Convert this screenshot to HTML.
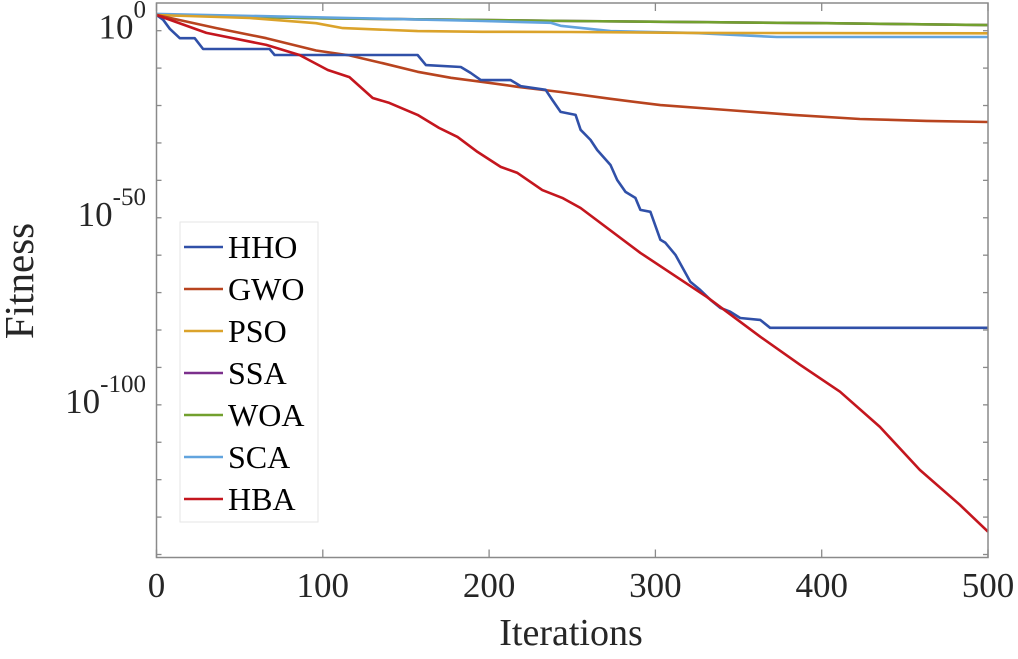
<!DOCTYPE html>
<html><head><meta charset="utf-8"><style>
html,body{margin:0;padding:0;background:#fff;}
svg{display:block;font-family:"Liberation Serif",serif;}
</style></head><body>
<svg id="chart" width="1018" height="659" viewBox="0 0 1018 659">
<rect x="0" y="0" width="1018" height="659" fill="#fff"/>
<g id="plot"></g>
<g id="axes"></g>
<text x="571" y="645" font-size="38" fill="#262626" text-anchor="middle">Iterations</text>
<text transform="translate(33,281) rotate(-90)" font-size="41" fill="#262626" text-anchor="middle">Fitness</text>
<g id="legend"></g>
</svg>
<script>
const seriesNames = ["HHO","GWO","PSO","SSA","WOA","SCA","HBA"];
const seriesColors = ["#3050a8","#b8441f","#dba32b","#7b2f8c","#72a02e","#62a4de","#c4161e"];
const xTicks = [0,100,200,300,400,500];
const yMajorTicks = [0,-50,-100];
const yMinorTicks = [0,-10,-20,-30,-40,-50,-60,-70,-80,-90,-100,-110,-120,-130,-140];
// [iteration, log10(fitness)]
const HHO = [[0,4.2],[4,2.9],[8,0.5],[14,-2],[23,-2],[28,-4.9],[68,-4.9],[71,-6.5],[157,-6.5],[162,-9.2],[183,-9.7],[189,-11.3],[195,-13.2],[213,-13.2],[219,-14.8],[234,-15.8],[238,-18.5],[243,-21.7],[252,-22.5],[255,-26.5],[261,-29.2],[265,-31.9],[273,-35.9],[277,-39.9],[282,-43.1],[288,-44.7],[291,-47.9],[297,-48.4],[303,-55.9],[306,-56.7],[312,-59.9],[321,-67.1],[327,-69.3],[333,-71.9],[339,-74.1],[345,-75.1],[351,-76.8],[363,-77.3],[369,-79.4],[500,-79.4]];
const GWO = [[0,4.2],[36,0.7],[66,-2.0],[96,-5.3],[116,-6.6],[136,-8.7],[157,-11.0],[177,-12.6],[196,-13.7],[217,-15.0],[243,-16.4],[273,-18.2],[303,-19.9],[343,-21.2],[383,-22.5],[423,-23.6],[463,-24.1],[500,-24.4]];
const PSO = [[0,4.2],[56,3.4],[96,2.0],[112,0.7],[157,-0.1],[196,-0.3],[249,-0.35],[323,-0.6],[500,-0.7]];
const SSA = [[0,4.2],[100,3.3],[249,2.6],[323,2.3],[403,2.0],[500,1.5]];
const WOA = [[0,4.2],[100,3.3],[249,2.6],[323,2.3],[403,2.0],[500,1.5]];
const SCA = [[0,4.5],[116,3.4],[196,2.6],[237,2.1],[243,1.3],[273,-0.1],[323,-0.6],[373,-1.7],[500,-1.7]];
const HBA = [[0,4.2],[30,-0.6],[66,-3.8],[86,-6.5],[103,-10.5],[116,-12.4],[130,-18],[140,-19.3],[157,-22.5],[170,-26],[181,-28.4],[193,-32.4],[207,-36.4],[217,-38],[232,-42.6],[244,-44.7],[255,-47.4],[291,-59.4],[331,-71.2],[363,-81.8],[387,-89.3],[411,-96.5],[435,-105.9],[459,-117.4],[483,-126.7],[500,-133.9]];
const allSeries = [HHO,GWO,PSO,SSA,WOA,SCA,HBA];

const X0=156.5, X1=988, Y0=3, Y1=557.5;
const xMin=0, xMax=500, yTop=7.4, yBot=-140.8;
function sx(v){return X0+(v-xMin)/(xMax-xMin)*(X1-X0);}
function sy(v){return Y0+(yTop-v)/(yTop-yBot)*(Y1-Y0);}
const NS="http://www.w3.org/2000/svg";
function mk(tag,attrs,parent){const e=document.createElementNS(NS,tag);for(const k in attrs)e.setAttribute(k,attrs[k]);parent.appendChild(e);return e;}

const plot=document.getElementById('plot');
const drawOrder=[3,4,5,2,1,0,6];
drawOrder.forEach(i=>{
  const pts=allSeries[i].map(p=>sx(p[0]).toFixed(1)+","+sy(p[1]).toFixed(1)).join(" ");
  const pl=mk('polyline',{points:pts,fill:"none",stroke:seriesColors[i],"stroke-width":2.6,"stroke-linejoin":"round"},plot);
  
  
});

const axes=document.getElementById('axes');
const box=mk('rect',{x:X0,y:Y0,width:X1-X0,height:Y1-Y0,fill:"none",stroke:"#8a8a8a","stroke-width":1.5},axes);


xTicks.forEach(t=>{
  const x=sx(t);
  mk('line',{x1:x,y1:Y1,x2:x,y2:Y1-8,stroke:"#8a8a8a","stroke-width":1.3},axes);
  mk('line',{x1:x,y1:Y0,x2:x,y2:Y0+8,stroke:"#8a8a8a","stroke-width":1.3},axes);
  const tx=mk('text',{x:x,y:597,"font-size":35,fill:"#262626","text-anchor":"middle"},axes);
  tx.textContent=t;
  
  
});
yMinorTicks.forEach(t=>{
  const y=sy(t);
  mk('line',{x1:X0,y1:y,x2:X0+5,y2:y,stroke:"#8a8a8a","stroke-width":1.3},axes);
  mk('line',{x1:X1,y1:y,x2:X1-5,y2:y,stroke:"#8a8a8a","stroke-width":1.3},axes);
});
yMajorTicks.forEach(t=>{
  const y=sy(t);
  const tx=mk('text',{x:146,y:y+8,"font-size":35,fill:"#262626","text-anchor":"end"},axes);
  
  
  const a=document.createElementNS(NS,'tspan');a.textContent="10";tx.appendChild(a);
  const b=document.createElementNS(NS,'tspan');b.setAttribute('dy','-21');b.setAttribute('font-size','25');b.textContent=String(t);tx.appendChild(b);
});

const leg=document.getElementById('legend');
const lb=mk('rect',{x:180,y:222,width:138,height:300,fill:"#fff",stroke:"#e6e6e6","stroke-width":1},leg);


seriesNames.forEach((n,i)=>{
  const y=247+i*42;
  const g=mk('g',{},leg);
  
  
  mk('line',{x1:184,y1:y,x2:223,y2:y,stroke:seriesColors[i],"stroke-width":2.6},g);
  const t=mk('text',{x:228,y:y+11,"font-size":32,fill:"#000"},g);
  t.textContent=n;
});
</script>
</body></html>
